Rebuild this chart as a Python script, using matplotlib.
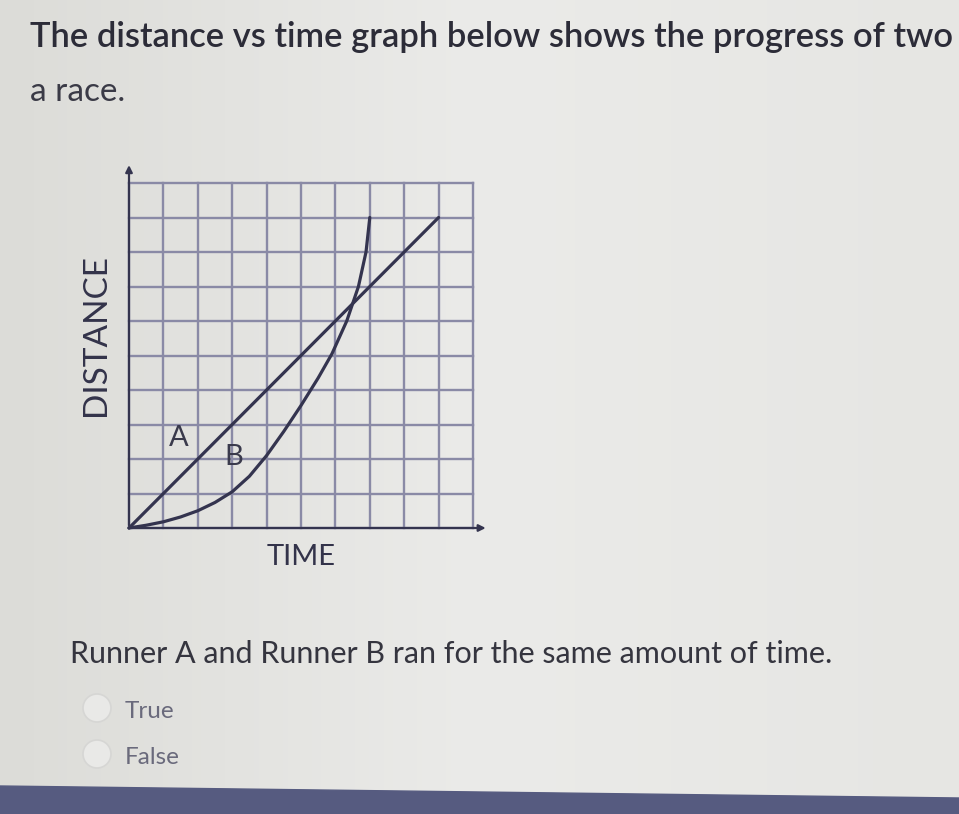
import numpy as np
import matplotlib
matplotlib.use("Agg")
import matplotlib.pyplot as plt
from matplotlib.patches import Circle, Polygon

plt.rcParams["font.family"] = ["Lato", "DejaVu Sans"]

# ---- data (grid units) ------------------------------------------------------
grid_n = 10
a_time = [0, 9]
a_dist = [0, 9]
b_time = [0, 0.5, 1, 1.5, 2, 2.5, 3, 3.5, 4, 4.5, 5, 5.5, 5.9, 6.33, 6.67, 6.89, 7.0]
b_dist = [0, 0.08, 0.18, 0.32, 0.5, 0.74, 1.05, 1.5, 2.1, 2.8, 3.55, 4.35, 5.05, 6.0, 7.0, 8.0, 9.0]

title_lines = ["The distance vs time graph below shows the progress of two", "a race."]
question = "Runner A and Runner B ran for the same amount of time."
options = ["True", "False"]

W, H = 959, 814
BG = "#e4e4e1"
INK = "#34344f"
GRID = "#8a8aa6"

fig = plt.figure(figsize=(W / 100, H / 100), dpi=100)
fig.patch.set_facecolor(BG)

# background layer in pixel coordinates
bg = fig.add_axes([0, 0, 1, 1])
bg.set_xlim(0, W); bg.set_ylim(H, 0); bg.axis("off")
shade = np.linspace(0, 1, 200)[None, :] * np.ones((20, 1))
bg.imshow(shade, extent=[0, W, H, 0], cmap=matplotlib.colors.LinearSegmentedColormap.from_list(
    "bgshade", ["#dcdcd8", "#ebebe9", "#e6e6e3"]), aspect="auto", zorder=0)
bg.add_patch(Polygon([[0, 786], [W, 798], [W, H], [0, H]], closed=True,
                     color="#565b80", zorder=1))

bg.text(30, 47, title_lines[0], fontsize=24.8, weight="semibold", color="#2c2c38")
bg.text(30, 101, title_lines[1], fontsize=24, color="#3a3a46")
bg.text(70, 663, question, fontsize=22, color="#35353f")
for i, opt in enumerate(options):
    y = 712 + i * 46
    bg.add_patch(Circle((97, y - 4), 14, facecolor="#e9e9e7", edgecolor="#d6d6d4",
                        lw=1.2, zorder=2))
    bg.text(125, y + 6, opt, fontsize=17.5, color="#6a6a7c")

# ---- the graph --------------------------------------------------------------
unit_x, unit_y = 34.4, 34.5
x0_px, y0_px = 129, 528
xlo, xhi, ylo, yhi = -0.3, 10.8, -0.3, 11.0
left = (x0_px + xlo * unit_x) / W
bottom = (H - (y0_px - ylo * unit_y)) / H
ax = fig.add_axes([left, bottom, (xhi - xlo) * unit_x / W, (yhi - ylo) * unit_y / H])
ax.set_xlim(xlo, xhi); ax.set_ylim(ylo, yhi); ax.axis("off")

for k in range(grid_n + 1):
    ax.plot([k, k], [0, grid_n], color=GRID, lw=1.7, zorder=1)
    ax.plot([0, grid_n], [k, k], color=GRID, lw=1.7, zorder=1)

ax.annotate("", xy=(0, 10.6), xytext=(0, 0),
            arrowprops=dict(arrowstyle="-|>", color=INK, lw=1.6, mutation_scale=10))
ax.annotate("", xy=(10.45, 0), xytext=(0, 0),
            arrowprops=dict(arrowstyle="-|>", color=INK, lw=1.6, mutation_scale=10))

ax.plot(a_time, a_dist, color=INK, lw=2.3, zorder=3, solid_capstyle="round")
ax.plot(b_time, b_dist, color=INK, lw=2.3, zorder=3, solid_capstyle="round",
        solid_joinstyle="round")

ax.text(1.45, 2.6, "A", fontsize=21, color="#3a3a4c", ha="center", va="center")
ax.text(3.05, 2.05, "B", fontsize=21, color="#3a3a4c", ha="center", va="center")
ax.text(-0.95, 5.6, "DISTANCE", fontsize=24, rotation=90, color="#33334a",
        ha="center", va="center")
ax.text(5.0, -0.85, "TIME", fontsize=21, color="#33334a", ha="center", va="center")

fig.savefig("out.png", dpi=100, facecolor=fig.get_facecolor())
